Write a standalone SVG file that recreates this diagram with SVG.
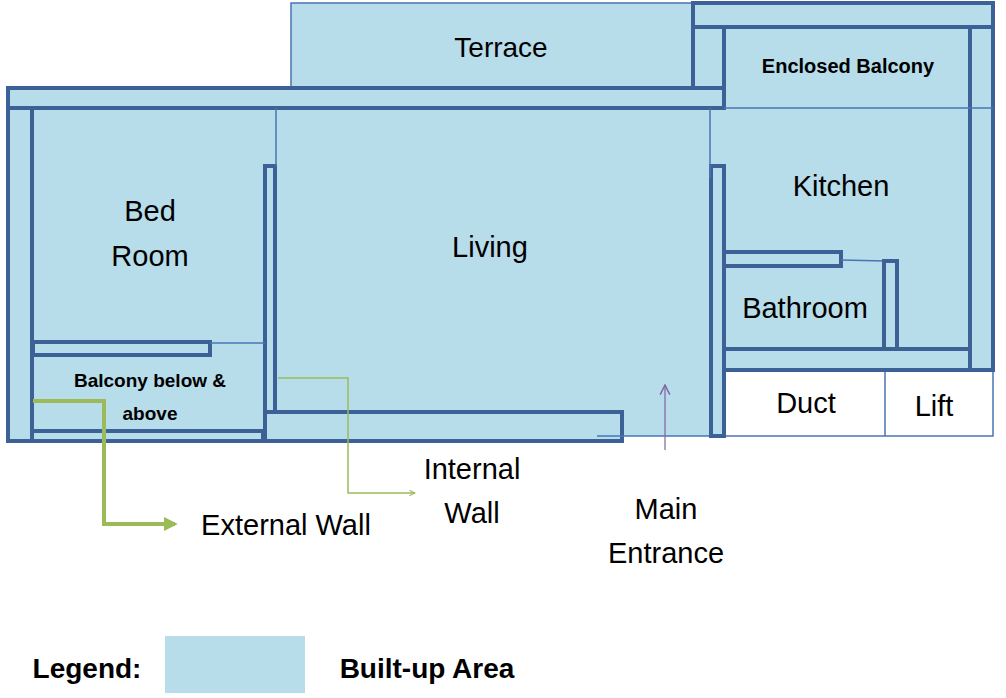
<svg xmlns="http://www.w3.org/2000/svg" width="1006" height="698" viewBox="0 0 1006 698">
<style>
.f{fill:#b7dcea;stroke:none}
.w{fill:#b7dcea;stroke:#3b6196;stroke-width:4}
.t{fill:none;stroke:#4a74b4;stroke-width:1.5}
text{font-family:"Liberation Sans",Arial,sans-serif;fill:#000;text-anchor:middle}
.b{font-weight:bold}
</style>
<defs>
<marker id="ag" viewBox="0 0 10 10" refX="9" refY="5" markerWidth="7" markerHeight="7" orient="auto" markerUnits="userSpaceOnUse"><path d="M1,1 L9,5 L1,9" fill="none" stroke="#9bbb59" stroke-width="1.5"/></marker>
<marker id="agb" viewBox="0 0 10 10" refX="8" refY="5" markerWidth="14" markerHeight="14" orient="auto" markerUnits="userSpaceOnUse"><path d="M0,0 L10,5 L0,10 Z" fill="#9bbb59"/></marker>
<marker id="ap" viewBox="0 0 10 10" refX="9" refY="5" markerWidth="12" markerHeight="12" orient="auto" markerUnits="userSpaceOnUse"><path d="M1,1 L9,5 L1,9" fill="none" stroke="#8064a2" stroke-width="1.2"/></marker>
</defs>
<rect width="1006" height="698" fill="#fff"/>
<g id="plan">
<rect class="f" x="8" y="88" width="985" height="353"/>
<rect x="291" y="3" width="402" height="85" fill="#b7dcea" stroke="#4a74b4" stroke-width="1.5"/>
<rect class="f" x="693" y="3" width="300" height="105"/>
<rect x="622" y="412" width="102" height="40" fill="#fff"/>
<rect x="724" y="436" width="275" height="10" fill="#fff"/>
<rect class="f" x="622" y="412" width="88" height="24"/>
<rect x="724" y="370" width="269" height="66" fill="#fff" stroke="#4a74b4" stroke-width="1.5"/>
<line class="t" x1="885" y1="370" x2="885" y2="436"/>
<rect class="w" x="8" y="88" width="716" height="20"/>
<rect class="w" x="8" y="108" width="24" height="333"/>
<rect class="w" x="265" y="166" width="10" height="246"/>
<line class="t" x1="276" y1="108" x2="276" y2="166"/>
<rect class="w" x="33" y="342" width="177" height="13"/>
<line class="t" x1="210" y1="343" x2="265" y2="343"/>
<rect class="w" x="32" y="431" width="231" height="10"/>
<rect class="w" x="265" y="412" width="357" height="29"/>
<line class="t" x1="597" y1="436" x2="711" y2="436"/>
<rect class="w" x="711" y="166" width="13" height="270"/>
<line class="t" x1="710" y1="108" x2="710" y2="178"/>
<rect class="w" x="693" y="3" width="300" height="24"/>
<rect class="w" x="693" y="27" width="31" height="61"/>
<rect class="w" x="970" y="27" width="23" height="343"/>
<line class="t" x1="724" y1="108" x2="993" y2="108"/>
<rect class="w" x="724" y="252" width="117" height="14"/>
<line class="t" x1="841" y1="260" x2="885" y2="261"/>
<rect class="w" x="884" y="261" width="13" height="89"/>
<rect class="w" x="724" y="349" width="246" height="21"/>
</g>
<g id="labels">
<text x="501" y="57" font-size="28">Terrace</text>
<text x="848" y="73" font-size="20" class="b">Enclosed Balcony</text>
<text x="150" y="221" font-size="29">Bed</text>
<text x="150" y="266" font-size="29">Room</text>
<text x="490" y="257" font-size="29">Living</text>
<text x="841" y="196" font-size="29">Kitchen</text>
<text x="805" y="318" font-size="29">Bathroom</text>
<text x="150" y="387" font-size="19" class="b">Balcony below &amp;</text>
<text x="150" y="420" font-size="19" class="b">above</text>
<text x="806" y="413" font-size="29">Duct</text>
<text x="934" y="416" font-size="29">Lift</text>
<text x="472" y="479" font-size="29">Internal</text>
<text x="472" y="523" font-size="29">Wall</text>
<text x="286" y="535" font-size="29">External Wall</text>
<text x="666" y="519" font-size="29">Main</text>
<text x="666" y="563" font-size="29">Entrance</text>
</g>
<g id="connectors">
<polyline points="278,378 348,378 348,493 415,493" fill="none" stroke="#9bbb59" stroke-width="1.5" marker-end="url(#ag)"/>
<polyline points="33,401 104,401 104,524 175,524" fill="none" stroke="#9bbb59" stroke-width="4" marker-end="url(#agb)"/>
<line x1="665" y1="450" x2="665" y2="385" stroke="#8064a2" stroke-width="1.2" marker-end="url(#ap)"/>
</g>
<g id="legend">
<text x="87" y="678" font-size="28" class="b">Legend:</text>
<rect x="165" y="636" width="140" height="57" fill="#b7dcea"/>
<text x="427" y="678" font-size="28" class="b">Built-up Area</text>
</g>
</svg>
